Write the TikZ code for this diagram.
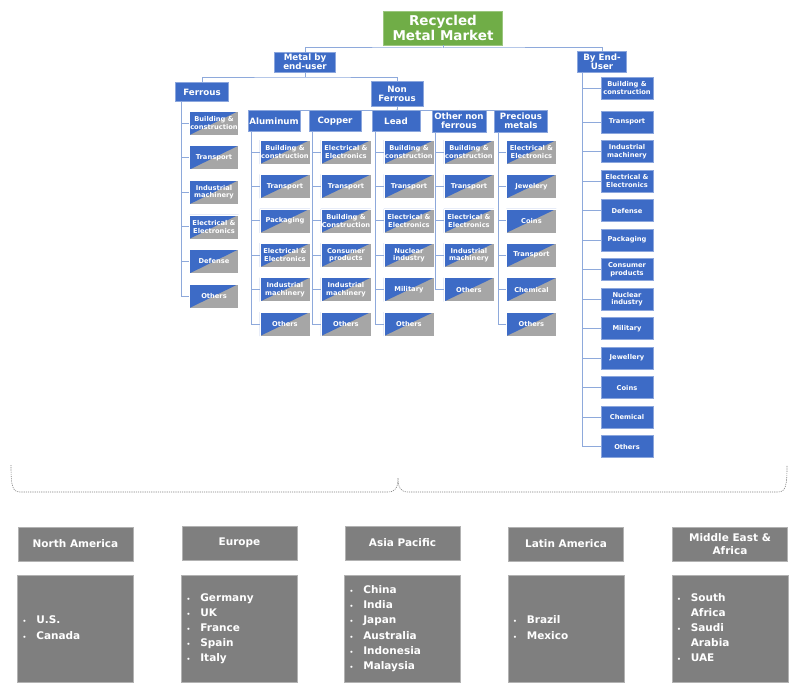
\documentclass[tikz,border=0pt]{standalone}
\usepackage{fontspec}
\setmainfont{DejaVu Sans}
\definecolor{cblue}{HTML}{3D6BC6}
\definecolor{cgray}{HTML}{A6A6A6}
\definecolor{rgray}{HTML}{7F7F7F}
\definecolor{cline}{HTML}{8EA9DB}
\definecolor{cgreen}{HTML}{70AD47}
\begin{document}
\begin{tikzpicture}[x=1pt,y=-1pt,
  box/.style={fill=cblue,draw=cblue!60!white,line width=0.6pt,text=white,font=\bfseries\fontsize{8.7}{9.5}\selectfont,align=center,inner sep=0pt,minimum width=#1,minimum height=21},
  leaf/.style={draw=white,line width=0.5pt,text=white,font=\bfseries\fontsize{6.7}{7.5}\selectfont,align=center,inner sep=0pt,minimum width=50,minimum height=24,
    path picture={\fill[cgray] (path picture bounding box.south west) rectangle (path picture bounding box.north east);
      \fill[cblue] (path picture bounding box.south west) -- (path picture bounding box.north west) -- (path picture bounding box.north east) -- cycle;}},
  bleaf/.style={fill=cblue,draw=cblue!60!white,line width=0.5pt,text=white,font=\bfseries\fontsize{6.7}{7.5}\selectfont,align=center,inner sep=0pt,minimum width=52,minimum height=22},
  con/.style={cline,line width=1pt},
  rhead/.style={fill=rgray,draw=gray!60,text=white,font=\bfseries\fontsize{10.5}{12.5}\selectfont,align=center,inner sep=0pt,minimum width=115,minimum height=34},
  rbody/.style={fill=rgray,draw=gray!60,text=white,font=\bfseries\fontsize{10.5}{15.2}\selectfont,inner sep=0pt,minimum width=116,minimum height=107,text width=106},
]
\useasboundingbox (0,0) rectangle (800,693);
% top
\node[fill=cgreen,draw=cgreen!70!white,text=white,font=\bfseries\fontsize{13.5}{15}\selectfont,align=center,minimum width=119,minimum height=34,inner sep=0pt] (root) at (443,28) {Recycled\\Metal Market};
\node[box=61,minimum height=20] (mbe) at (305,62) {Metal by\\end-user};
\node[box=49,minimum height=21] (beu) at (602,62) {By End-\\User};
\coordinate (j1) at (443,48);
\draw[con] (root.south) -- (j1);
\draw[con] (mbe.north) |- (j1) -| (beu.north);
\node[box=53,minimum height=19] (fer) at (202,92) {Ferrous};
\node[box=52,minimum height=25] (nfe) at (397,94) {Non\\Ferrous};
\coordinate (j2) at (305,77);
\draw[con] (mbe.south) -- (j2);
\draw[con] (fer.north) |- (j2) -| (nfe.north);
% subcats
\node[box=52,minimum height=21] (alu) at (274,121) {Aluminum};
\node[box=52,minimum height=21] (cop) at (335,121) {Copper};
\node[box=48,minimum height=21] (lea) at (396,121) {Lead};
\node[box=54,minimum height=22] (oth) at (459,121) {Other non\\ferrous};
\node[box=53,minimum height=22] (pre) at (521,121) {Precious\\metals};
\coordinate (j3) at (397,110);
\draw[con] (nfe.south) -- (j3);
\draw[con] (alu.north) |- (j3) -| (pre.north);
\draw[con] (cop.north) |- (j3);
\draw[con] (oth.north) |- (j3);
\draw[con] (lea.north) -- (j3);
% ferrous leaves
\foreach \t [count=\i] in {{Building \&\\construction},Transport,{Industrial\\machinery},{Electrical \&\\Electronics},Defense,Others}{
  \pgfmathsetmacro\yy{123+(\i-1)*34.6}
  \node[leaf,minimum width=49] (f\i) at (214,\yy) {\t};
  \draw[con] ([xshift=6]fer.south west) |- (f\i.west);
}
% subcategory leaves
\foreach \p/\nm/\lst in {alu/a/{{Building \&\\construction},Transport,Packaging,{Electrical \&\\Electronics},{Industrial\\machinery},Others},
  cop/c/{{Electrical \&\\Electronics},Transport,{Building \&\\Construction},{Consumer\\products},{Industrial\\machinery},Others},
  lea/l/{{Building \&\\construction},Transport,{Electrical \&\\Electronics},{Nuclear\\industry},Military,Others},
  oth/o/{{Building \&\\construction},Transport,{Electrical \&\\Electronics},{Industrial\\machinery},Others},
  pre/p/{{Electrical \&\\Electronics},Jewelery,Coins,Transport,Chemical,Others}}{
  \path (\p.south west) ++(4,0) coordinate (\nm top);
  \foreach \t [count=\i] in \lst {
    \pgfmathsetmacro\yy{152+(\i-1)*34.4}
    \path (\nm top) ++(8,0) coordinate (\nm tmp);
    \node[leaf,anchor=west] (\nm\i) at (\nm tmp |- 0,\yy) {\t};
    \draw[con] (\nm top) |- (\nm\i.west);
  }
}
% by end-user leaves
\foreach \t [count=\i] in {{Building \&\\construction},Transport,{Industrial\\machinery},{Electrical \&\\Electronics},Defense,Packaging,{Consumer\\products},{Nuclear\\industry},Military,Jewellery,Coins,Chemical,Others}{
  \ifnum\i=1 \def\yy{88}\else\pgfmathsetmacro\yy{122+(\i-2)*29.5}\fi
  \node[bleaf] (e\i) at (627,\yy) {\t};
  \draw[con] ([xshift=-20]beu.south) |- (e\i.west);
}
% brace
\draw[gray,dash pattern=on 1.2pt off 1pt,line width=0.6pt]
  (11,465) .. controls (11,485) and (12,492) .. (20,492) -- (388,492)
  .. controls (395,492) and (398,488) .. (398,478)
  .. controls (398,488) and (401,492) .. (408,492) -- (778,492)
  .. controls (786,492) and (787,485) .. (787,465);
% regions
\node[rhead] (h1) at (75.5,544) {North America};
\node[rhead] (h2) at (239.5,543) {Europe};
\node[rhead] (h3) at (402.5,543) {Asia Pacific};
\node[rhead] (h4) at (566,544) {Latin America};
\node[rhead] (h5) at (730,544) {Middle East \&\\Africa};
\def\bl{{\fontsize{6}{6}\selectfont\textbullet}}
\node[rbody] (b1) at (75.5,628.5) {\begin{tabular}{@{}l@{\hspace{10pt}}l@{}}\bl&U.S.\\ \bl&Canada\end{tabular}};
\node[rbody] (b2) at (239.5,628.5) {\begin{tabular}{@{}l@{\hspace{10pt}}l@{}}\bl&Germany\\ \bl&UK\\ \bl&France\\ \bl&Spain\\ \bl&Italy\end{tabular}};
\node[rbody] (b3) at (402.5,628.5) {\begin{tabular}{@{}l@{\hspace{10pt}}l@{}}\bl&China\\ \bl&India\\ \bl&Japan\\ \bl&Australia\\ \bl&Indonesia\\ \bl&Malaysia\end{tabular}};
\node[rbody] (b4) at (566,628.5) {\begin{tabular}{@{}l@{\hspace{10pt}}l@{}}\bl&Brazil\\ \bl&Mexico\end{tabular}};
\node[rbody] (b5) at (730,628.5) {\begin{tabular}{@{}l@{\hspace{10pt}}l@{}}\bl&South\\ &Africa\\ \bl&Saudi\\ &Arabia\\ \bl&UAE\end{tabular}};
\end{tikzpicture}
\end{document}
